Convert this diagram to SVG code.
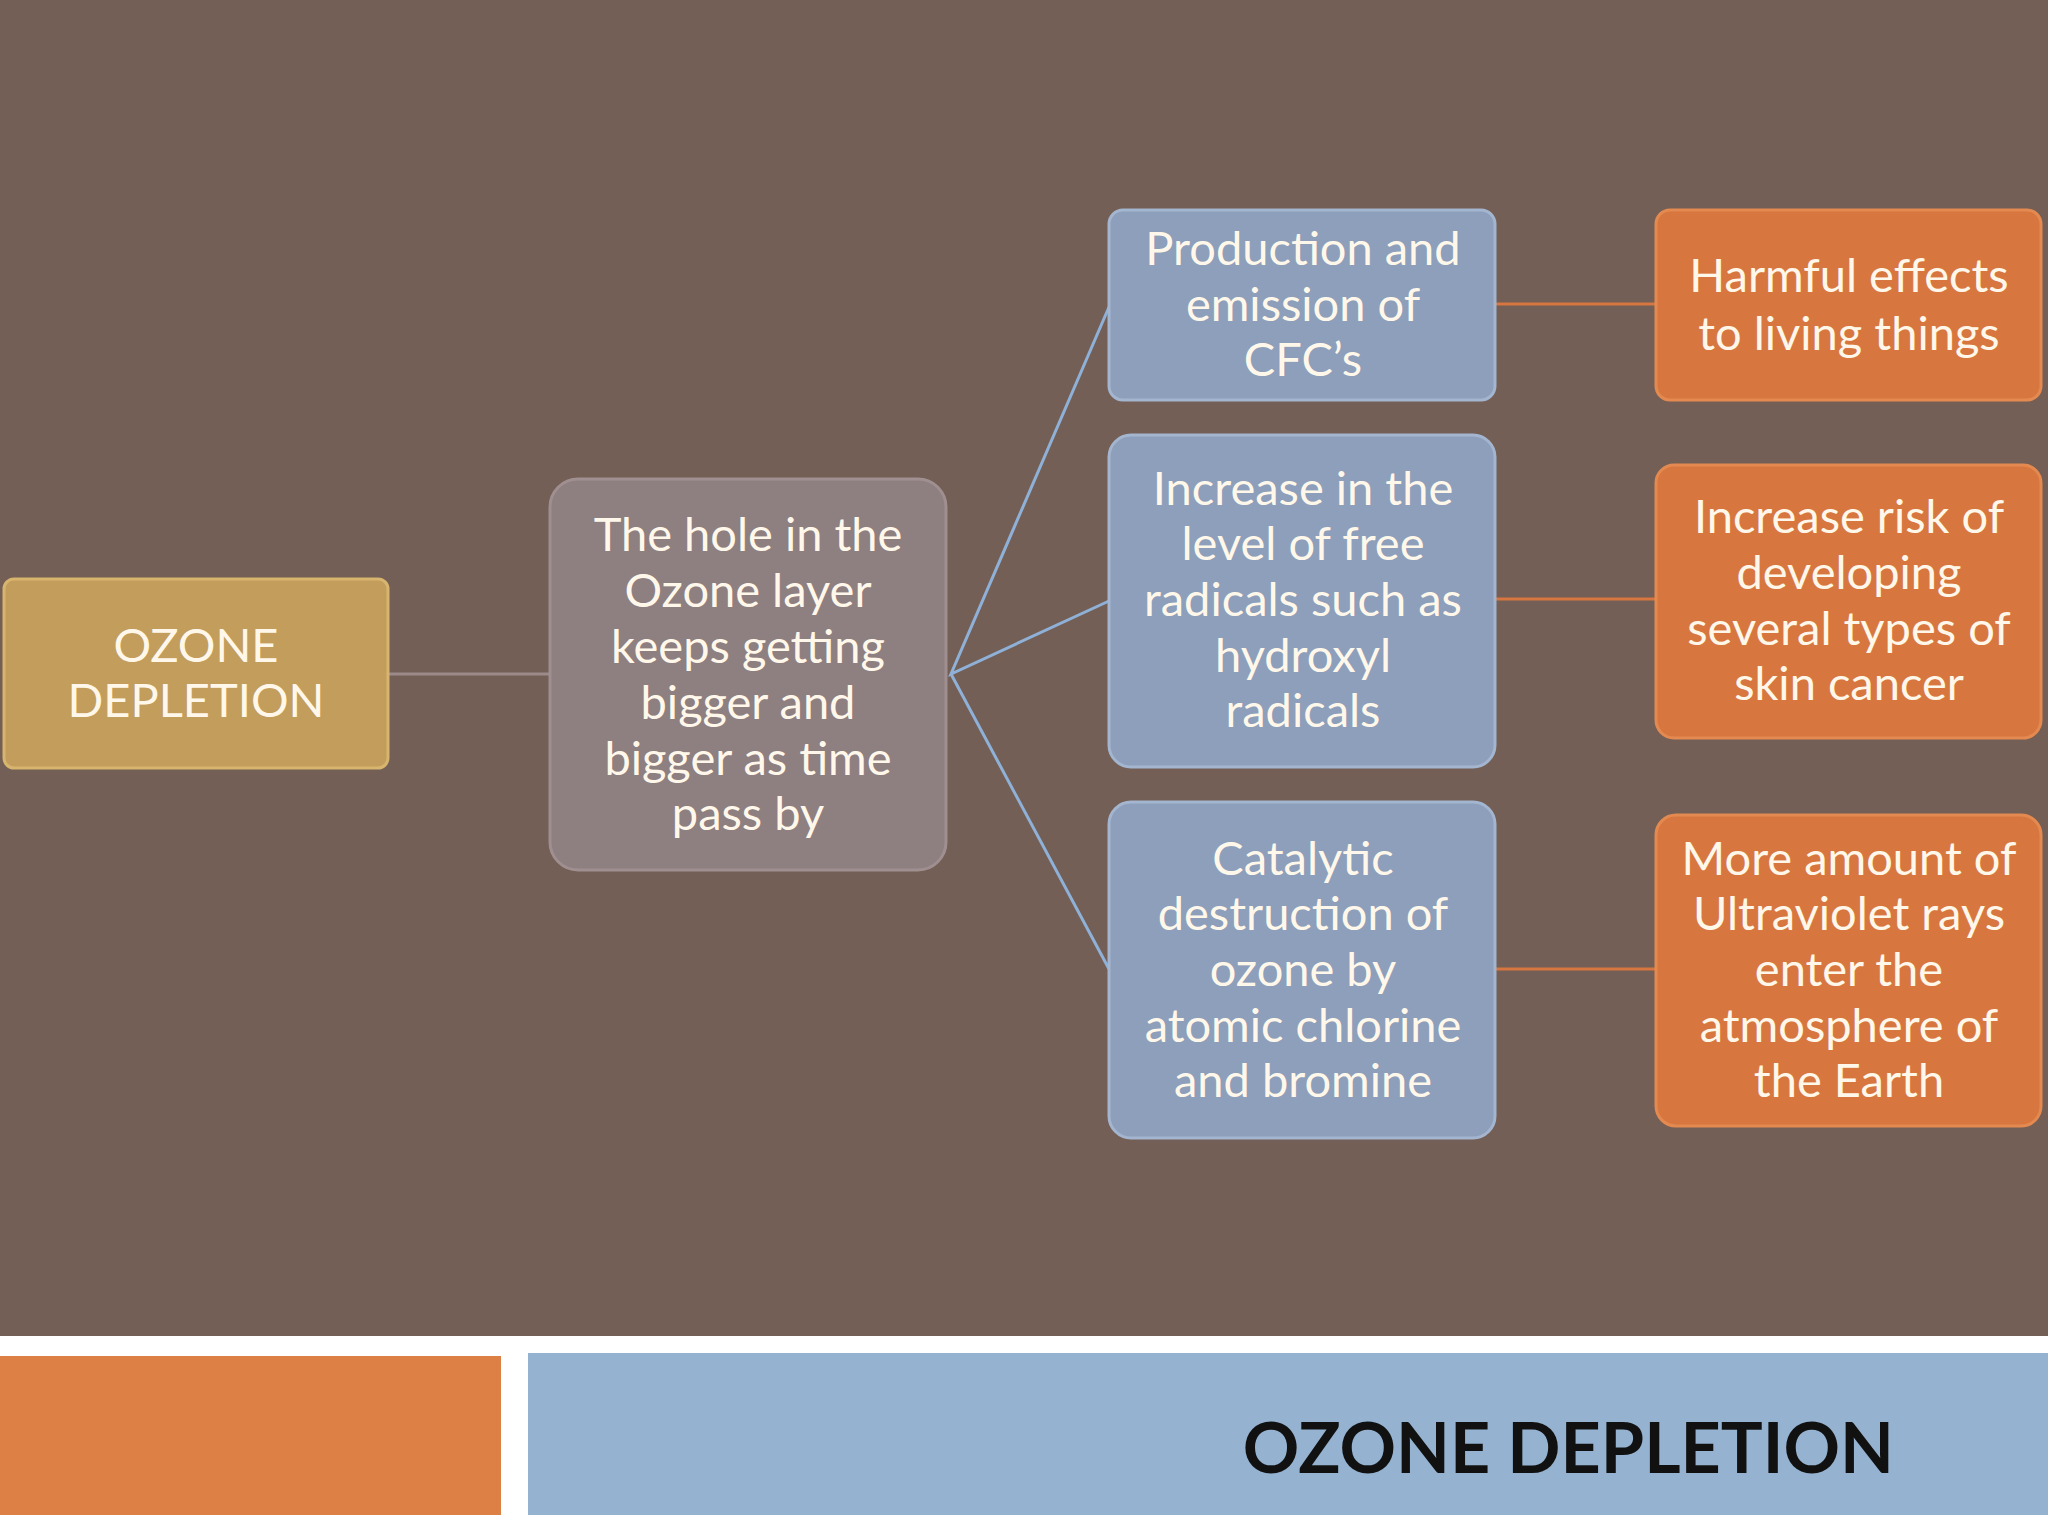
<svg xmlns="http://www.w3.org/2000/svg" width="2048" height="1536" viewBox="0 0 2048 1536">
<style>
.t{font-family:Lato,"Open Sans",sans-serif;font-size:47px;fill:#FFF8EA;text-anchor:middle;dominant-baseline:central}
.gold{fill:#C29D5C;stroke:#D8B56E;stroke-width:3}
.pur{fill:#8E7F81;stroke:#A08F90;stroke-width:3}
.blu{fill:#8D9FBA;stroke:#A3B5CF;stroke-width:3}
.ora{fill:#D7773F;stroke:#E48A50;stroke-width:3}
</style>
<rect width="2048" height="1536" fill="#FFFFFF"/>
<rect width="2048" height="1336" fill="#735F55"/>
<g id="connectors" fill="none" stroke-width="3">
<line x1="388" y1="674" x2="550" y2="674" stroke="#9C8A8A"/>
<path d="M1109,307 L951,674 L1109,601 M951,674 L1109,969" stroke="#8FB1D8"/>
<g stroke="#D7773F"><line x1="1495" y1="304" x2="1656" y2="304"/><line x1="1495" y1="599" x2="1656" y2="599"/><line x1="1495" y1="969" x2="1656" y2="969"/></g>
</g>
<g id="n0"><rect class="gold" x="4" y="579" width="384" height="189" rx="10"/>
<text class="t" x="196"><tspan x="196" y="644">OZONE</tspan><tspan x="196" y="699">DEPLETION</tspan></text></g>
<g id="n1"><rect class="pur" x="550" y="479" width="396" height="391" rx="28"/>
<text class="t" x="748"><tspan x="748" y="533">The hole in the</tspan><tspan x="748" y="589">Ozone layer</tspan><tspan x="748" y="645">keeps getting</tspan><tspan x="748" y="701">bigger and</tspan><tspan x="748" y="757">bigger as time</tspan><tspan x="748" y="812">pass by</tspan></text></g>
<g id="b1"><rect class="blu" x="1109" y="210" width="386" height="190" rx="14"/>
<text class="t"><tspan x="1303" y="247">Production and</tspan><tspan x="1303" y="303">emission of</tspan><tspan x="1303" y="358">CFC’s</tspan></text></g>
<g id="b2"><rect class="blu" x="1109" y="435" width="386" height="332" rx="22"/>
<text class="t"><tspan x="1303" y="487">Increase in the</tspan><tspan x="1303" y="542">level of free</tspan><tspan x="1303" y="598">radicals such as</tspan><tspan x="1303" y="654">hydroxyl</tspan><tspan x="1303" y="709">radicals</tspan></text></g>
<g id="b3"><rect class="blu" x="1109" y="802" width="386" height="336" rx="22"/>
<text class="t"><tspan x="1303" y="857">Catalytic</tspan><tspan x="1303" y="912">destruction of</tspan><tspan x="1303" y="968">ozone by</tspan><tspan x="1303" y="1024">atomic chlorine</tspan><tspan x="1303" y="1079">and bromine</tspan></text></g>
<g id="o1"><rect class="ora" x="1656" y="210" width="385" height="190" rx="14"/>
<text class="t"><tspan x="1849" y="274">Harmful effects</tspan><tspan x="1849" y="332">to living things</tspan></text></g>
<g id="o2"><rect class="ora" x="1656" y="465" width="385" height="273" rx="18"/>
<text class="t"><tspan x="1849" y="515">Increase risk of</tspan><tspan x="1849" y="571">developing</tspan><tspan x="1849" y="627">several types of</tspan><tspan x="1849" y="682">skin cancer</tspan></text></g>
<g id="o3"><rect class="ora" x="1656" y="815" width="385" height="311" rx="20"/>
<text class="t"><tspan x="1849" y="857">More amount of</tspan><tspan x="1849" y="912">Ultraviolet rays</tspan><tspan x="1849" y="968">enter the</tspan><tspan x="1849" y="1024">atmosphere of</tspan><tspan x="1849" y="1079">the Earth</tspan></text></g>
<rect x="0" y="1356" width="501" height="159" fill="#DD8045"/>
<rect x="528" y="1353" width="1520" height="162" fill="#95B3D0"/>
<text x="1894" y="1473" font-family="Lato,'Open Sans',sans-serif" font-weight="bold" font-size="70" fill="#111" text-anchor="end">OZONE DEPLETION</text>
</svg>
